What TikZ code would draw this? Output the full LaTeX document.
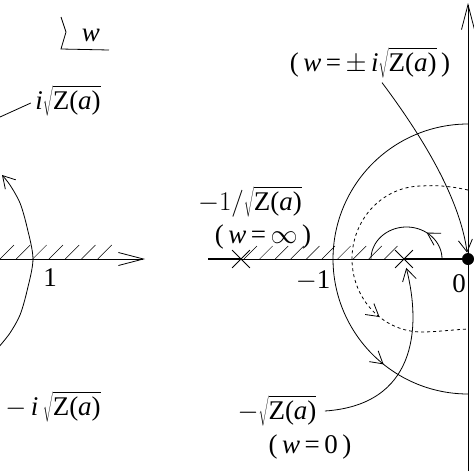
\documentclass[tikz,border=0pt]{standalone}
\usepackage{fix-cm}
\usepackage{fontspec}
\setmainfont{Liberation Serif}
\usetikzlibrary{arrows.meta,decorations.markings,shapes.misc}
\newcommand{\sqZ}{\sqrt{\rule[-0.22em]{0pt}{1.0em}\hbox{Z(\textit{a})}}}
\tikzset{
  lbl/.style={inner sep=0pt, font=\fontsize{27}{31}\selectfont},
  >={Straight Barb[length=12pt,width=14pt]},
  axisarrow/.style={-{Straight Barb[length=25pt,width=13pt]}},
  marrow/.style={postaction={decorate}, decoration={markings, mark=at position #1 with {\arrow[solid]{>}}}},
  xmark/.style={cross out, draw, minimum size=17pt, inner sep=0pt},
  thickaxis/.style={line width=2.8pt},
  hatchline/.style={line width=0.5pt},
}
\begin{document}
\begin{tikzpicture}[x=1pt,y=-1pt,line width=0.8pt]
\useasboundingbox (0,0) rectangle (474,474);
\clip (0,0) rectangle (474,474);
% ---------------- left panel ----------------
\node[lbl] (w) at (91,35) {\textit{w}};
\draw (61,17) .. controls (64,24) .. (66,32) -- (61,49) -- (109,50);
\node[lbl] (iz) at (68,101) {\textit{i}$\sqZ$};
\coordinate (izend) at (0,117);
\draw ([xshift=-4pt,yshift=-2pt]iz.west) -- (izend);
\coordinate (la0) at (0,259);
\coordinate (la1) at (145,259);
\draw[axisarrow] (la0) -- (la1);
\foreach \x in {0,16.3,...,100} \draw[hatchline] (\x,259) -- ++(14,-14);
\node[lbl] (one) at (50,278) {1};
\draw[->] plot[smooth] coordinates {(-2,348) (10,333) (20,315) (27,291) (33,259) (27,227) (20,203) (10,185) (2,175)};
\node[lbl] (miz) at (53,407) {$-$\,\textit{i}\,$\sqZ$};
% ---------------- right panel ----------------
\node[circle, fill, minimum size=12pt, inner sep=0pt] (O) at (468,259) {};
\node[xmark] (X1) at (241,259) {};
\node[xmark] (X2) at (404,259) {};
\coordinate (ra0) at (208,259);
\coordinate (vb) at (468,471);
\coordinate (vt) at (468,3);
\draw[axisarrow] (vb) -- (vt);
\draw (ra0) -- (O);
\draw[thickaxis] (ra0) -- (X1.center);
\draw[thickaxis] (X2.center) -- (O.center);
\foreach \x in {244,259.6,...,398} \draw[hatchline] (\x,259) -- ++(13,-13);
\node[lbl] (m1) at (313,281) {$-$1};
\node[lbl] (zero) at (459,284) {0};
% big circle
\draw[marrow=0.785] plot[domain=270:90, samples=90] ({468+135*cos(\x)},{259+135*sin(\x)});
% dashed curve
\draw[dashed, marrow=0.71] (468,190) .. controls (450,186) and (435,185) .. (422,186)
  -- plot[domain=270:90, samples=90] ({422+70*cos(\x)},{259+73*sin(\x)})
  .. controls (435,332) and (450,330) .. (468,329);
% small semicircle
\draw[marrow=0.3] plot[domain=0:-180, samples=60] ({406.5+35.5*cos(\x)},{259+32*sin(\x)});
% labels
\node[lbl] (tl) at (370,63) {(\,\textit{w}\,=\,$\pm$\,\textit{i}$\sqZ$\,)};
\node[lbl] (ml) at (250,202) {$-1\Big/\sqZ$};
\node[lbl] (winf) at (263,237) {(\,\textit{w}\,=\,$\infty$\,)};
\node[lbl] (bz) at (277,411) {$-\sqZ$};
\node[lbl] (w0) at (310,447) {(\,\textit{w}\,=\,0\,)};
% connectors
\draw[->] ([xshift=12pt,yshift=-4pt]tl.south) .. controls (425,140) and (460,200) .. (O);
\draw[->] ([xshift=8pt]bz.east) .. controls (415,405) and (422,330) .. (X2);
\end{tikzpicture}
\end{document}
